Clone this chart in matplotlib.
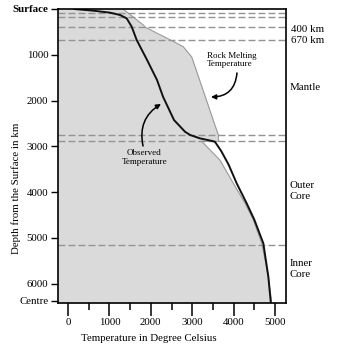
import matplotlib
matplotlib.use("Agg")
import matplotlib.pyplot as plt

plt.rcParams['font.family'] = ['Liberation Serif', 'DejaVu Serif']

# Observed temperature (deg C) vs depth (km)
obs_depth = [0, 37, 80, 131, 204, 386, 677, 1110, 1550, 1915, 2424, 2680, 2750, 2825,
             2880, 2900, 3100, 3400, 3806, 4242, 4600, 5116, 5844, 6420]
obs_temp = [150, 612, 1014, 1256, 1417, 1538, 1659, 1908, 2150, 2295, 2560, 2826, 2947, 3188,
            3470, 3550, 3700, 3880, 4074, 4315, 4500, 4718, 4839, 4900]

# Rock melting temperature
melt_depth = [0, 350, 400, 670, 820, 1050, 2750, 2890, 2890, 3300, 3800, 4240, 4600, 5120, 5840, 6420]
melt_temp = [1330, 1820, 1870, 2460, 2780, 2990, 3630, 3640, 3230, 3670, 3990, 4275, 4475, 4680, 4840, 4920]

boundary_depths = [95, 185, 400, 680, 2750, 2890, 5150]

xticks = [0, 1000, 2000, 3000, 4000, 5000]
yticks = [0, 1000, 2000, 3000, 4000, 5000, 6000, 6371]
yticklabels = ['Surface', '1000', '2000', '3000', '4000', '5000', '6000', 'Centre']

fig = plt.figure(figsize=(3.5, 3.47), dpi=100)
ax = fig.add_axes([58/350, 1-303/347, 228/350, 294/347])

XMIN, XMAX = -242, 5266
YMAX = 6420

ax.fill_betweenx(melt_depth, XMIN, melt_temp, color='#dadada', lw=0)
ax.plot(melt_temp, melt_depth, color='#9a9a9a', lw=0.8)
for d in boundary_depths:
    ax.axhline(d, color='#939393', lw=1.0, ls=(0, (5, 2.2)))
ax.plot(obs_temp, obs_depth, color='#111111', lw=1.4)

ax.set_xlim(XMIN, XMAX)
ax.set_ylim(YMAX, 0)
ax.set_xticks(xticks)
ax.set_xticks([500, 1500, 2500, 3500, 4500], minor=True)
ax.set_yticks(yticks)
ax.set_yticklabels(yticklabels)
ax.get_yticklabels()[0].set_fontweight('bold')
ax.tick_params(axis='x', which='major', length=9, width=1.1, labelsize=7.8, pad=2)
ax.tick_params(axis='x', which='minor', length=5, width=1.1)
ax.tick_params(axis='y', length=5, width=1.0, labelsize=7.8, pad=2)
for s in ax.spines.values():
    s.set_linewidth(1.2)

ax.set_xlabel('Temperature in Degree Celsius', fontsize=7.8, labelpad=1)
ax.xaxis.set_label_coords(0.40, -0.105)
fig.text(16/350, 1-188/347, 'Depth from the Surface in km', rotation=90,
         fontsize=7.8, ha='center', va='center')

# right side labels
rx = 291/350
fig.text(rx, 1-29/347, '400 km', fontsize=7.8, va='center')
fig.text(rx, 1-40.5/347, '670 km', fontsize=7.8, va='center')
fig.text(rx - 1/350, 1-88/347, 'Mantle', fontsize=7.8, va='center')
fig.text(rx - 1/350, 1-191/347, 'Outer\nCore', fontsize=7.8, va='center', linespacing=1.15)
fig.text(rx - 1/350, 1-269/347, 'Inner\nCore', fontsize=7.8, va='center', linespacing=1.15)

# annotations
ax.text(3357, 1113, 'Rock Melting\nTemperature', fontsize=6.5, ha='left', va='center',
        linespacing=1.1)
ax.annotate('', xy=(3454, 1921), xytext=(4082, 1397),
            arrowprops=dict(arrowstyle='-|>', color='black', lw=1.1,
                            connectionstyle='arc3,rad=-0.45', shrinkA=0, shrinkB=0,
                            mutation_scale=7))
ax.text(1840, 3240, 'Observed\nTemperature', fontsize=6.5, ha='center', va='center',
        linespacing=1.1)
ax.annotate('', xy=(2246, 2074), xytext=(1812, 2991),
            arrowprops=dict(arrowstyle='-|>', color='black', lw=1.1,
                            connectionstyle='arc3,rad=-0.35', shrinkA=0, shrinkB=0,
                            mutation_scale=7))

fig.savefig('out.png', dpi=100)
